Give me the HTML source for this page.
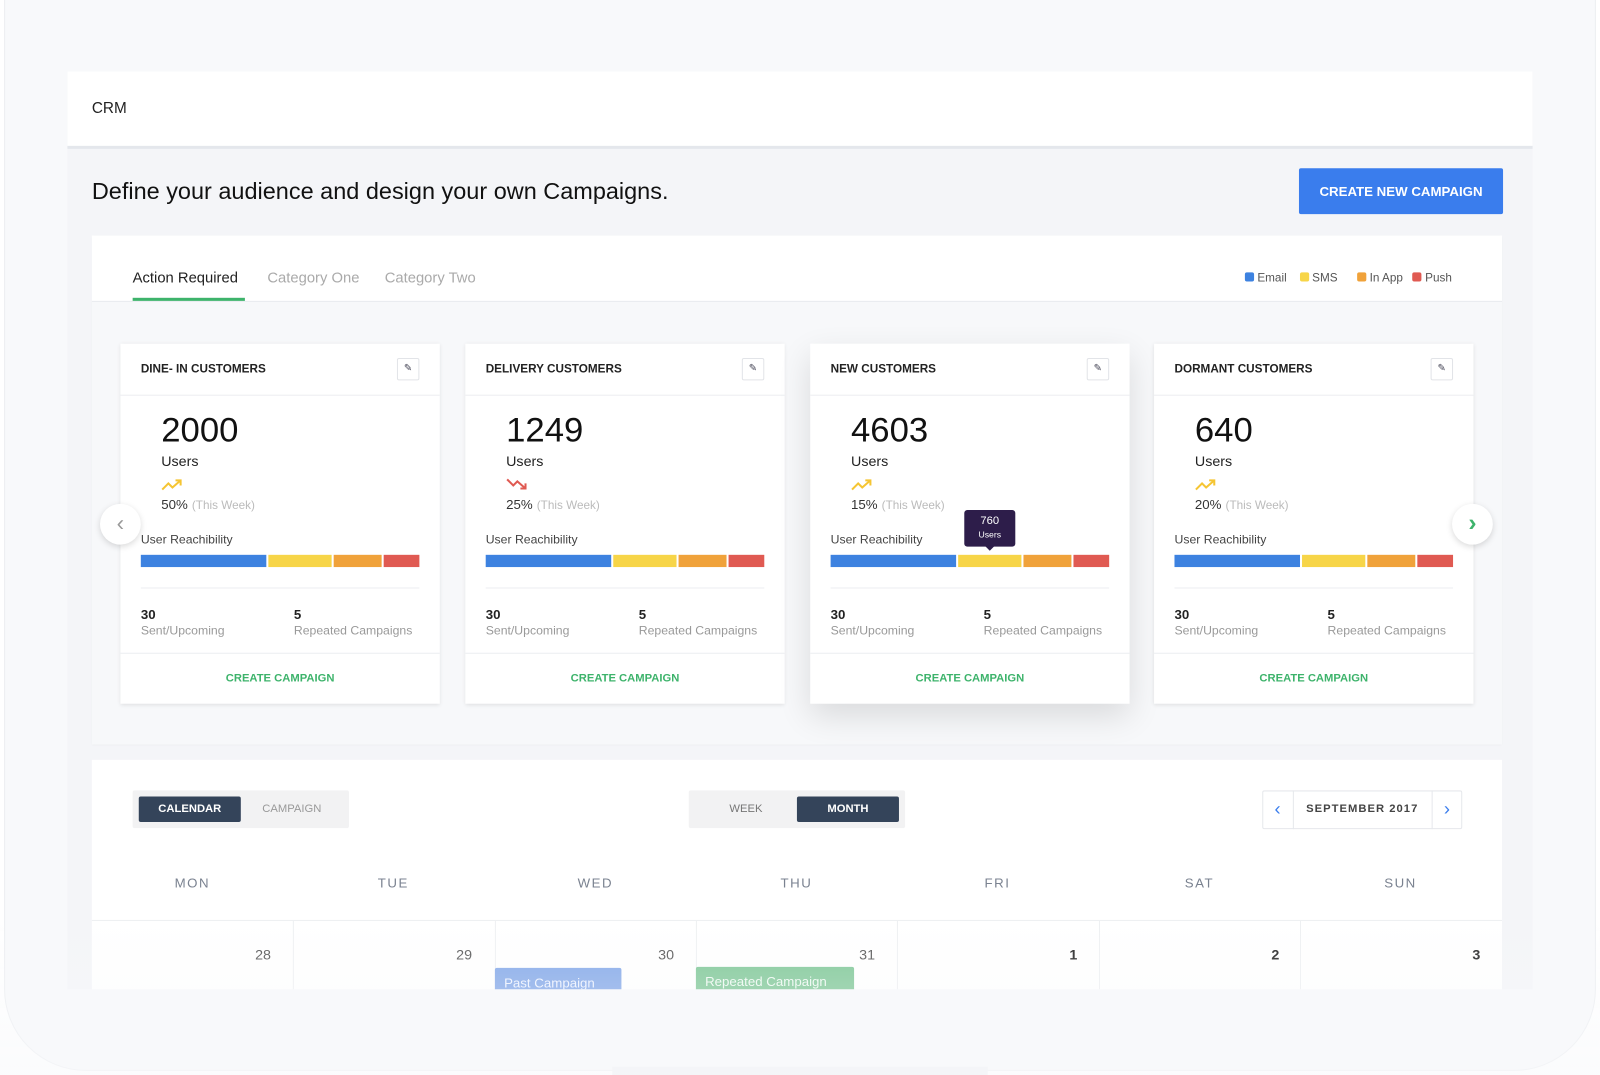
<!DOCTYPE html>
<html><head><meta charset="utf-8"><style>
*{box-sizing:border-box;margin:0;padding:0}
html,body{width:1600px;height:1075px;overflow:hidden;background:#fff;font-family:"Liberation Sans",sans-serif}
#w{position:absolute;left:0;top:0;width:1568px;height:1054px;transform:scale(1.0204,1.0199);transform-origin:0 0}
.frame{position:absolute;left:4px;top:-80px;width:1560px;height:1130px;border-radius:80px;background:#f8f9fb;border:1px solid #eceef1}
.screen{position:absolute;left:66px;top:70px;width:1436px;height:900px;background:#f4f5f8;overflow:hidden}
.hdr{position:absolute;left:0;top:0;width:100%;height:76px;background:#fff;border-bottom:3px solid #e4e7ec}
.abs{position:absolute}
.card{position:absolute;top:267px;width:313px;height:353px;background:#fff;box-shadow:0 1px 4px rgba(0,0,0,.1)}
.card .t{position:absolute;left:20px;top:19px;font-size:11.5px;font-weight:bold;color:#222}
.card .ed{position:absolute;right:20px;top:14px;width:22px;height:22px;border:1px solid #e2e4e8;border-radius:2px;font-size:10px;color:#445;text-align:center;line-height:20px}
.card .l1{position:absolute;left:0;top:50px;width:100%;border-top:1px solid #eceef1}
.card .n{position:absolute;left:40px;top:66px;font-size:34px;color:#111}
.card .u{position:absolute;left:40px;top:107px;font-size:14px;color:#222}
.card .ar{position:absolute;left:40px;top:131px}
.card .p{position:absolute;left:40px;top:150px;font-size:13px;color:#333}
.card .p span{color:#bbb;font-size:11.5px;margin-left:4px}
.card .ur{position:absolute;left:20px;top:185px;font-size:12px;color:#444}
.bar{position:absolute;left:20px;top:207px;width:273px;height:12px;display:flex;gap:2px}
.bar i{display:block;height:12px}
.card .l2{position:absolute;left:20px;top:239px;width:273px;border-top:1px solid #eceef1}
.card .s{position:absolute;top:258px;font-size:13px;font-weight:bold;color:#222}
.card .sl{position:absolute;top:274px;font-size:12px;color:#999}
.card .l3{position:absolute;left:0;top:303px;width:100%;border-top:1px solid #eceef1}
.card .cc{position:absolute;left:0;top:322px;width:100%;text-align:center;font-size:11px;font-weight:bold;color:#3db36b}
.day{position:absolute;top:113px;font-size:13px;color:#7a8290;letter-spacing:1.5px;width:197px;text-align:center}
.dn{position:absolute;top:183px;font-size:14px;color:#555}
.vl{position:absolute;top:158px;height:80px;border-left:1px solid #eef0f2}
</style></head><body><div id="w">
<div class="frame"></div>
<div class="abs" style="left:600px;top:1046px;width:368px;height:8px;background:#eef0f3"></div>
<div class="screen">
 <div class="hdr"><div class="abs" style="left:24px;top:28px;font-size:15px;color:#222">CRM</div></div>
 <div class="abs" style="left:24px;top:104px;font-size:23px;color:#111">Define your audience and design your own Campaigns.</div>
 <div class="abs" style="left:1207px;top:95px;width:200px;height:45px;background:#3a7ded;border-radius:2px;color:#fff;font-size:13px;font-weight:bold;text-align:center;line-height:45px">CREATE NEW CAMPAIGN</div>
 <!-- panel 1 -->
 <div class="abs" style="left:24px;top:161px;width:1382px;height:499px;background:#f7f8fa;box-shadow:0 1px 2px rgba(0,0,0,.04)">
  <div class="abs" style="left:0;top:0;width:100%;height:65px;background:#fff;border-bottom:1px solid #e8eaee">
   <div class="abs" style="left:40px;top:34px;font-size:14.5px;color:#222">Action Required</div>
   <div class="abs" style="left:40px;top:61px;width:110px;height:3px;background:#3db36b"></div>
   <div class="abs" style="left:172px;top:34px;font-size:14.5px;color:#aaa">Category One</div>
   <div class="abs" style="left:287px;top:34px;font-size:14.5px;color:#aaa">Category Two</div>
   <div class="abs" style="left:1130px;top:36px;font-size:11.5px;color:#555;white-space:nowrap">
    <span style="display:inline-block;width:9px;height:9px;background:#3d82e0;border-radius:2px"></span> Email&nbsp;&nbsp;&nbsp;
    <span style="display:inline-block;width:9px;height:9px;background:#f7d548;border-radius:2px"></span> SMS&nbsp;&nbsp;&nbsp;&nbsp;&nbsp;
    <span style="display:inline-block;width:9px;height:9px;background:#f0a23a;border-radius:2px"></span> In App&nbsp;&nbsp;
    <span style="display:inline-block;width:9px;height:9px;background:#e05a52;border-radius:2px"></span> Push</div>
  </div>
 </div>
 <!-- cards -->
 <div class="card" style="left:52px"><div class="t">DINE- IN CUSTOMERS</div><div class="ed">✎</div><div class="l1"></div>
  <div class="n">2000</div><div class="u">Users</div>
  <svg class="ar" width="22" height="14"><polyline points="1,12 7,6 11,10 19,3" fill="none" stroke="#f5c533" stroke-width="2"/><polyline points="14,3 19,3 19,8" fill="none" stroke="#f5c533" stroke-width="2"/></svg>
  <div class="p">50%<span>(This Week)</span></div><div class="ur">User Reachibility</div>
  <div class="bar"><i style="width:123px;background:#3d82e0"></i><i style="width:62px;background:#f7d548"></i><i style="width:47px;background:#f0a23a"></i><i style="width:35px;background:#e05a52"></i></div>
  <div class="l2"></div><div class="s" style="left:20px">30</div><div class="sl" style="left:20px">Sent/Upcoming</div><div class="s" style="left:170px">5</div><div class="sl" style="left:170px">Repeated Campaigns</div>
  <div class="l3"></div><div class="cc">CREATE CAMPAIGN</div></div>
 <div class="card" style="left:390px"><div class="t">DELIVERY CUSTOMERS</div><div class="ed">✎</div><div class="l1"></div>
  <div class="n">1249</div><div class="u">Users</div>
  <svg class="ar" width="22" height="14"><polyline points="1,2 7,8 11,4 19,11" fill="none" stroke="#e05a52" stroke-width="2"/><polyline points="14,11 19,11 19,6" fill="none" stroke="#e05a52" stroke-width="2"/></svg>
  <div class="p">25%<span>(This Week)</span></div><div class="ur">User Reachibility</div>
  <div class="bar"><i style="width:123px;background:#3d82e0"></i><i style="width:62px;background:#f7d548"></i><i style="width:47px;background:#f0a23a"></i><i style="width:35px;background:#e05a52"></i></div>
  <div class="l2"></div><div class="s" style="left:20px">30</div><div class="sl" style="left:20px">Sent/Upcoming</div><div class="s" style="left:170px">5</div><div class="sl" style="left:170px">Repeated Campaigns</div>
  <div class="l3"></div><div class="cc">CREATE CAMPAIGN</div></div>
 <div class="card" style="left:728px;box-shadow:0 12px 30px rgba(0,0,0,.12)"><div class="t">NEW CUSTOMERS</div><div class="ed">✎</div><div class="l1"></div>
  <div class="n">4603</div><div class="u">Users</div>
  <svg class="ar" width="22" height="14"><polyline points="1,12 7,6 11,10 19,3" fill="none" stroke="#f5c533" stroke-width="2"/><polyline points="14,3 19,3 19,8" fill="none" stroke="#f5c533" stroke-width="2"/></svg>
  <div class="p">15%<span>(This Week)</span></div><div class="ur">User Reachibility</div>
  <div class="abs" style="left:151px;top:163px;width:50px;height:36px;background:#2d1d4a;border-radius:3px;color:#fff;text-align:center;font-size:11px;line-height:13px;padding-top:5px">760<br><span style="font-size:8.5px">Users</span></div>
  <div class="abs" style="left:171px;top:198px;border:5px solid transparent;border-top-color:#2d1d4a"></div>
  <div class="bar"><i style="width:123px;background:#3d82e0"></i><i style="width:62px;background:#f7d548"></i><i style="width:47px;background:#f0a23a"></i><i style="width:35px;background:#e05a52"></i></div>
  <div class="l2"></div><div class="s" style="left:20px">30</div><div class="sl" style="left:20px">Sent/Upcoming</div><div class="s" style="left:170px">5</div><div class="sl" style="left:170px">Repeated Campaigns</div>
  <div class="l3"></div><div class="cc">CREATE CAMPAIGN</div></div>
 <div class="card" style="left:1065px"><div class="t">DORMANT CUSTOMERS</div><div class="ed">✎</div><div class="l1"></div>
  <div class="n">640</div><div class="u">Users</div>
  <svg class="ar" width="22" height="14"><polyline points="1,12 7,6 11,10 19,3" fill="none" stroke="#f5c533" stroke-width="2"/><polyline points="14,3 19,3 19,8" fill="none" stroke="#f5c533" stroke-width="2"/></svg>
  <div class="p">20%<span>(This Week)</span></div><div class="ur">User Reachibility</div>
  <div class="bar"><i style="width:123px;background:#3d82e0"></i><i style="width:62px;background:#f7d548"></i><i style="width:47px;background:#f0a23a"></i><i style="width:35px;background:#e05a52"></i></div>
  <div class="l2"></div><div class="s" style="left:20px">30</div><div class="sl" style="left:20px">Sent/Upcoming</div><div class="s" style="left:170px">5</div><div class="sl" style="left:170px">Repeated Campaigns</div>
  <div class="l3"></div><div class="cc">CREATE CAMPAIGN</div></div>
 <div class="abs" style="left:32px;top:424px;width:40px;height:40px;border-radius:50%;background:#fff;box-shadow:0 2px 6px rgba(0,0,0,.15);color:#999;font-size:22px;text-align:center;line-height:38px">‹</div>
 <div class="abs" style="left:1357px;top:424px;width:40px;height:40px;border-radius:50%;background:#fff;box-shadow:0 2px 6px rgba(0,0,0,.15);color:#3db36b;font-size:24px;font-weight:bold;text-align:center;line-height:37px">›</div>
 <!-- panel 2 -->
 <div class="abs" style="left:24px;top:675px;width:1382px;height:240px;background:#fff">
  <div class="abs" style="left:40px;top:30px;width:212px;height:37px;background:#f2f2f3;border-radius:2px"></div>
  <div class="abs" style="left:46px;top:36px;width:100px;height:25px;background:#34445a;border-radius:2px;color:#fff;font-size:11px;font-weight:bold;text-align:center;line-height:25px">CALENDAR</div>
  <div class="abs" style="left:146px;top:36px;width:100px;height:25px;color:#999;font-size:11px;text-align:center;line-height:25px">CAMPAIGN</div>
  <div class="abs" style="left:585px;top:30px;width:212px;height:37px;background:#f2f2f3;border-radius:2px"></div>
  <div class="abs" style="left:591px;top:36px;width:100px;height:25px;color:#777;font-size:11px;text-align:center;line-height:25px">WEEK</div>
  <div class="abs" style="left:691px;top:36px;width:100px;height:25px;background:#34445a;border-radius:2px;color:#fff;font-size:11px;font-weight:bold;text-align:center;line-height:25px">MONTH</div>
  <div class="abs" style="left:1147px;top:30px;width:196px;height:38px;border:1px solid #e6e8ec;border-radius:2px;background:#fff"></div>
  <div class="abs" style="left:1177px;top:30px;height:38px;border-left:1px solid #e6e8ec"></div>
  <div class="abs" style="left:1313px;top:30px;height:38px;border-left:1px solid #e6e8ec"></div>
  <div class="abs" style="left:1147px;top:38px;width:30px;text-align:center;color:#3a7ded;font-size:18px">‹</div>
  <div class="abs" style="left:1313px;top:38px;width:30px;text-align:center;color:#3a7ded;font-size:18px">›</div>
  <div class="abs" style="left:1177px;top:42px;width:136px;text-align:center;color:#444;font-size:11px;font-weight:bold;letter-spacing:1px">SEPTEMBER 2017</div>
  <div class="day" style="left:0">MON</div><div class="day" style="left:197px">TUE</div><div class="day" style="left:395px">WED</div><div class="day" style="left:592px">THU</div><div class="day" style="left:789px">FRI</div><div class="day" style="left:987px">SAT</div><div class="day" style="left:1184px">SUN</div>
  <div class="abs" style="left:0;top:157px;width:100%;border-top:1px solid #eef0f2"></div>
  <div class="vl" style="left:197px"></div><div class="vl" style="left:395px"></div><div class="vl" style="left:592px"></div><div class="vl" style="left:789px"></div><div class="vl" style="left:987px"></div><div class="vl" style="left:1184px"></div>
  <div class="dn" style="left:160px">28</div><div class="dn" style="left:357px">29</div><div class="dn" style="left:555px">30</div><div class="dn" style="left:752px">31</div>
  <div class="dn" style="left:958px;color:#222;font-weight:bold">1</div><div class="dn" style="left:1156px;color:#222;font-weight:bold">2</div><div class="dn" style="left:1353px;color:#222;font-weight:bold">3</div>
  <div class="abs" style="left:395px;top:204px;width:124px;height:30px;background:#82a7e8;border-radius:2px;color:#eef3ff;font-size:13px;padding:7px 9px">Past Campaign</div>
  <div class="abs" style="left:592px;top:203px;width:155px;height:30px;background:#7ec796;border-radius:2px;color:#effaf2;font-size:13px;padding:7px 9px">Repeated Campaign</div>
 </div>
</div>
<div class="abs" style="left:0;top:900px;width:1568px;height:154px;background:linear-gradient(to bottom,rgba(255,255,255,0),rgba(248,249,251,0.6))"></div>
</div></body></html>
